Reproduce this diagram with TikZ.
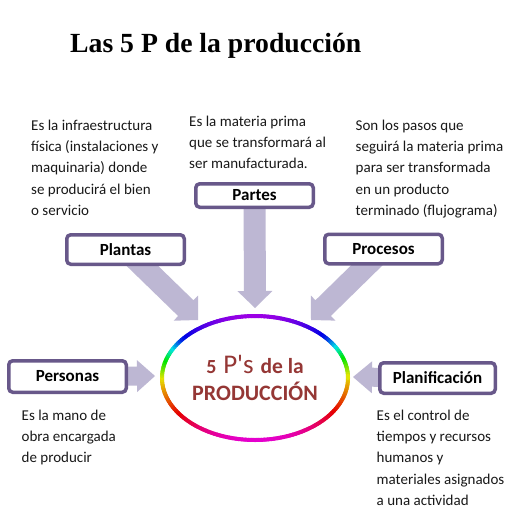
\documentclass[tikz,border=0pt]{standalone}
\usepackage{fontspec}
\setmainfont{Carlito}
\newfontfamily\titlefont{Liberation Serif}
\usetikzlibrary{calc,backgrounds}
\definecolor{boxc}{RGB}{104,88,138}
\definecolor{arrc}{RGB}{189,183,211}
\definecolor{redt}{RGB}{149,55,53}
\tikzset{
 lbox/.style={draw=boxc, line width=3.5pt, rounded corners=4pt, fill=white, minimum width=117.5pt, minimum height=29.5pt, inner sep=0pt, font=\fontsize{17}{20}\selectfont\bfseries},
 desc/.style={anchor=north west, align=left, inner sep=0pt, text=black!90, font=\fontsize{15}{21.3}\selectfont},
 arrfill/.style={fill=arrc},
}
\newcommand\blockarr[5]{%
 \coordinate (hb) at ($(#2)!#5!(#1)$);
 \fill[arrfill] ($(#1)!#3!90:(#2)$) -- ($(hb)!#3!-90:(#1)$) -- ($(hb)!#4!-90:(#1)$) -- (#2) -- ($(hb)!#4!90:(#1)$) -- ($(hb)!#3!90:(#1)$) -- ($(#1)!#3!-90:(#2)$) -- cycle;}
\begin{document}
\begin{tikzpicture}[x=1pt,y=-1pt]
\useasboundingbox (0,0) rectangle (522,524);
% title
\node[font=\titlefont\fontsize{27.7}{30}\selectfont\bfseries, anchor=base west, inner sep=0pt] (title) at (70,53) {Las 5 P de la producción};
% boxes
\node[lbox, minimum height=23.5pt] (partes) at (254.5,195.5) {Partes};
\node[lbox] (plantas) at (125.5,249.5) {Plantas};
\node[lbox] (procesos) at (383.5,249) {Procesos};
\node[lbox, minimum height=31.5pt] (personas) at (67.5,376.5) {Personas};
\node[lbox, minimum width=115.5pt, minimum height=30.5pt] (planif) at (437.5,378) {Planificación};
% descriptions
\node[desc] (dplantas) at (31,115.1) {\strut Es la infraestructura\\física (instalaciones y\\maquinaria) donde\\se producirá el bien\\o servicio};
\node[desc, font=\fontsize{15}{21}\selectfont] (dpartes) at (189,111.8) {\strut Es la materia prima\\que se transformará al\\ser manufacturada.};
\node[desc] (dprocesos) at (355.5,115.1) {\strut Son los pasos que\\seguirá la materia prima\\para ser transformada\\en un producto\\terminado (flujograma)};
\node[desc] (dpersonas) at (21.5,405.1) {\strut Es la mano de\\obra encargada\\de producir};
\node[desc] (dplanif) at (376.5,405.1) {\strut Es el control de\\tiempos y recursos\\humanos y\\materiales asignados\\a una actividad};
% centre
\coordinate (ec) at (255,378);
\node[align=center, anchor=north, inner sep=0pt, text=redt, font=\fontsize{21.5}{27}\selectfont\bfseries] (centro) at (255,354.1) {\strut{\fontsize{20}{27}\selectfont 5}\hspace{2pt} {\fontsize{27}{27}\selectfont\mdseries P\textquotesingle s}\hspace{2pt} de la\\{\fontsize{22}{27}\selectfont PRODUCCIÓN}};
\foreach \a in {0,2,...,358}{
 \pgfmathsetmacro\tv{(1+sin(\a+1))/2}
 \pgfmathsetmacro\hv{\tv<0.18 ? 0.78-0.72*\tv : (\tv<0.34 ? 0.65-(\tv-0.18)*1.875 : (\tv<0.5 ? 0.35-(\tv-0.34)*1.1875 : (\tv<0.78 ? 0.16-(\tv-0.5)*0.571 : -(\tv-0.78)*0.68)))}
 \pgfmathsetmacro\hw{\hv<0 ? \hv+1 : \hv}
 \definecolor{segc}{hsb}{\hw,1,0.9}
 \draw[segc, line width=4pt, line cap=round] ($(ec)+(\a:93 and 62)$) -- ($(ec)+(\a+2:93 and 62)$);
}
% arrow tips
\coordinate (tpartes) at (255,308);
\coordinate (tplantas) at (198,320);
\coordinate (tprocesos) at (311,320);
\coordinate (tpersonas) at (155,376);
\coordinate (tplanif) at (353,377);
\begin{scope}[on background layer]
\fill[white] (0,0) rectangle (522,524);
\blockarr{partes.center}{tpartes}{11pt}{17.5pt}{17pt}
\blockarr{plantas.center}{tplantas}{11pt}{17.5pt}{17pt}
\blockarr{procesos.center}{tprocesos}{11pt}{17.5pt}{17pt}
\blockarr{personas.center}{tpersonas}{9.5pt}{16pt}{18pt}
\blockarr{planif.center}{tplanif}{9.5pt}{16pt}{19pt}
\end{scope}
\end{tikzpicture}
\end{document}
